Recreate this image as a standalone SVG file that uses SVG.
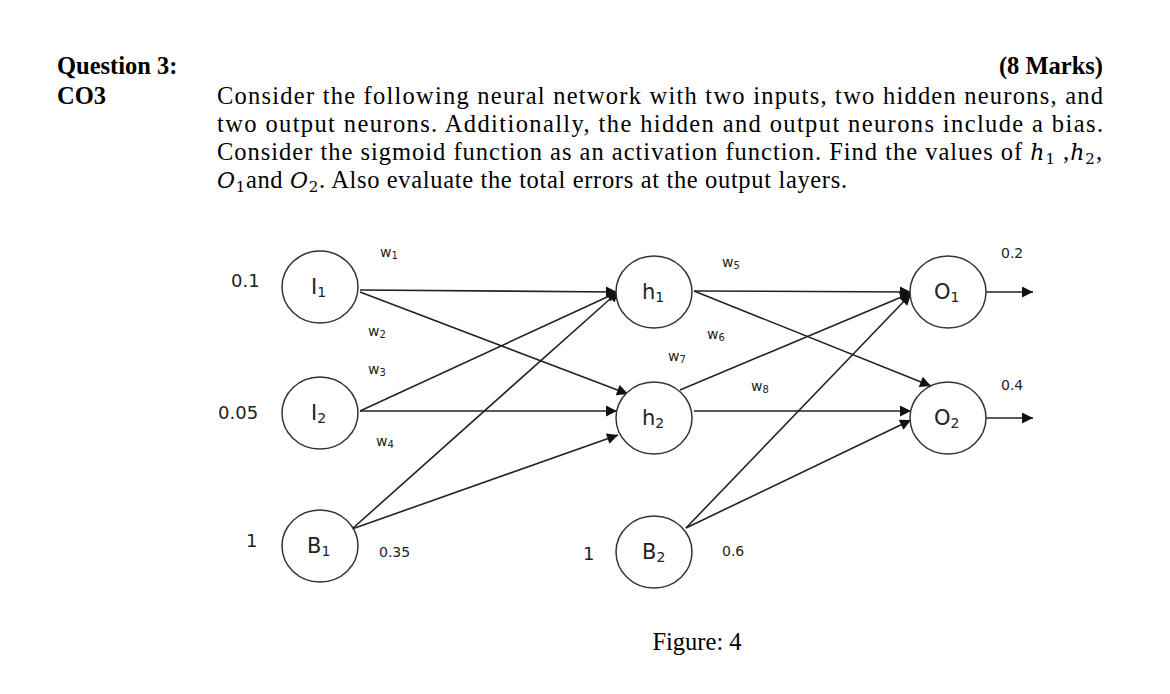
<svg xmlns="http://www.w3.org/2000/svg" width="1170" height="694" viewBox="0 0 1170 694">
<defs>
<style>
.q{font-family:"Liberation Serif",serif;font-size:24.5px;fill:#000}
.b{font-weight:bold}
.m{font-family:"DejaVu Serif","Liberation Serif",serif;font-style:italic;font-size:22px}
.s{font-family:"DejaVu Serif","Liberation Serif",serif;font-size:15px}
.n{fill:#fff;stroke:#333;stroke-width:1.5}
.nl{font-family:"DejaVu Sans",sans-serif;font-size:21px;fill:#222}
.w{font-family:"DejaVu Sans",sans-serif;font-size:14px;fill:#222}
.v{font-family:"DejaVu Sans",sans-serif;font-size:18px;fill:#222}
.e{stroke:#222;stroke-width:1.6;fill:none;marker-end:url(#a)}
</style>
<marker id="a" viewBox="0 0 10 10" refX="10" refY="5" markerWidth="12" markerHeight="11" markerUnits="userSpaceOnUse" orient="auto"><path d="M0,0L10,5L0,10z" fill="#111"/></marker>
</defs>
<rect width="1170" height="694" fill="#fff"/>
<text class="q b" x="57" y="74">Question 3:</text>
<text class="q b" x="1103" y="74" text-anchor="end">(8 Marks)</text>
<text class="q b" x="57" y="104">CO3</text>
<text class="q" x="217" y="104" textLength="886" lengthAdjust="spacing">Consider the following neural network with two inputs, two hidden neurons, and</text>
<text class="q" x="217" y="132" textLength="886" lengthAdjust="spacing">two output neurons. Additionally, the hidden and output neurons include a bias.</text>
<text class="q" x="217" y="160" textLength="885" lengthAdjust="spacing">Consider the sigmoid function as an activation function. Find the values of  <tspan class="m">h</tspan><tspan class="s" dy="4">1</tspan><tspan dy="-4"> ,</tspan><tspan class="m">h</tspan><tspan class="s" dy="4">2</tspan><tspan dy="-4">,</tspan></text>
<text class="q" x="217" y="188" textLength="630" lengthAdjust="spacing"><tspan class="m">O</tspan><tspan class="s" dy="4">1</tspan><tspan dy="-4">and </tspan><tspan class="m">O</tspan><tspan class="s" dy="4">2</tspan><tspan dy="-4">. Also evaluate the total errors at the output layers.</tspan></text>
<g id="connectors">
<line class="e" x1="360" y1="290" x2="617" y2="292"/>
<line class="e" x1="360" y1="292" x2="628" y2="394"/>
<line class="e" x1="360" y1="411" x2="618" y2="292"/>
<line class="e" x1="360" y1="411" x2="617" y2="411"/>
<line class="e" x1="352" y1="529" x2="619" y2="291"/>
<line class="e" x1="352" y1="529" x2="618" y2="435"/>
<line class="e" x1="694" y1="291" x2="911" y2="292"/>
<line class="e" x1="694" y1="291" x2="931" y2="386"/>
<line class="e" x1="680" y1="390" x2="911" y2="293"/>
<line class="e" x1="694" y1="411" x2="911" y2="411"/>
<line class="e" x1="686" y1="528" x2="911" y2="294"/>
<line class="e" x1="686" y1="528" x2="911" y2="420"/>
<line class="e" x1="986" y1="292" x2="1033" y2="292"/>
<line class="e" x1="986" y1="418" x2="1033" y2="418"/>
</g>
<g id="I1"><ellipse class="n" cx="320" cy="287" rx="38" ry="36"/><text class="nl" x="311" y="294">I<tspan font-size="14" dy="3">1</tspan></text><text class="v" x="231" y="287">0.1</text></g>
<g id="I2"><ellipse class="n" cx="320" cy="413" rx="38" ry="36"/><text class="nl" x="311" y="420">I<tspan font-size="14" dy="3">2</tspan></text><text class="v" x="218" y="419">0.05</text></g>
<g id="B1"><ellipse class="n" cx="320" cy="546" rx="38" ry="36"/><text class="nl" x="307" y="553">B<tspan font-size="14" dy="3">1</tspan></text><text class="v" x="246" y="547">1</text></g>
<g id="h1"><ellipse class="n" cx="654" cy="292" rx="38" ry="36"/><text class="nl" x="642" y="299">h<tspan font-size="14" dy="3">1</tspan></text></g>
<g id="h2"><ellipse class="n" cx="654" cy="418" rx="38" ry="36"/><text class="nl" x="642" y="425">h<tspan font-size="14" dy="3">2</tspan></text></g>
<g id="B2"><ellipse class="n" cx="654" cy="552" rx="38" ry="36"/><text class="nl" x="642" y="559">B<tspan font-size="14" dy="3">2</tspan></text><text class="v" x="583" y="560">1</text></g>
<g id="O1"><ellipse class="n" cx="948" cy="292" rx="38" ry="36"/><text class="nl" x="934" y="299">O<tspan font-size="14" dy="3">1</tspan></text></g>
<g id="O2"><ellipse class="n" cx="948" cy="418" rx="38" ry="36"/><text class="nl" x="934" y="425">O<tspan font-size="14" dy="3">2</tspan></text></g>
<g id="labels">
<text class="w" x="380" y="257">w<tspan font-size="10" dy="2">1</tspan></text>
<text class="w" x="368" y="336">w<tspan font-size="10" dy="2">2</tspan></text>
<text class="w" x="368" y="374">w<tspan font-size="10" dy="2">3</tspan></text>
<text class="w" x="376" y="446">w<tspan font-size="10" dy="2">4</tspan></text>
<text class="w" x="722" y="267">w<tspan font-size="10" dy="2">5</tspan></text>
<text class="w" x="707" y="339">w<tspan font-size="10" dy="2">6</tspan></text>
<text class="w" x="668" y="361">w<tspan font-size="10" dy="2">7</tspan></text>
<text class="w" x="751" y="391">w<tspan font-size="10" dy="2">8</tspan></text>
<text class="w" x="379" y="557">0.35</text>
<text class="w" x="722" y="556">0.6</text>
<text class="w" x="1001" y="258">0.2</text>
<text class="w" x="1001" y="390">0.4</text>
</g>
<text class="q" x="697" y="650" text-anchor="middle">Figure: 4</text>
</svg>
